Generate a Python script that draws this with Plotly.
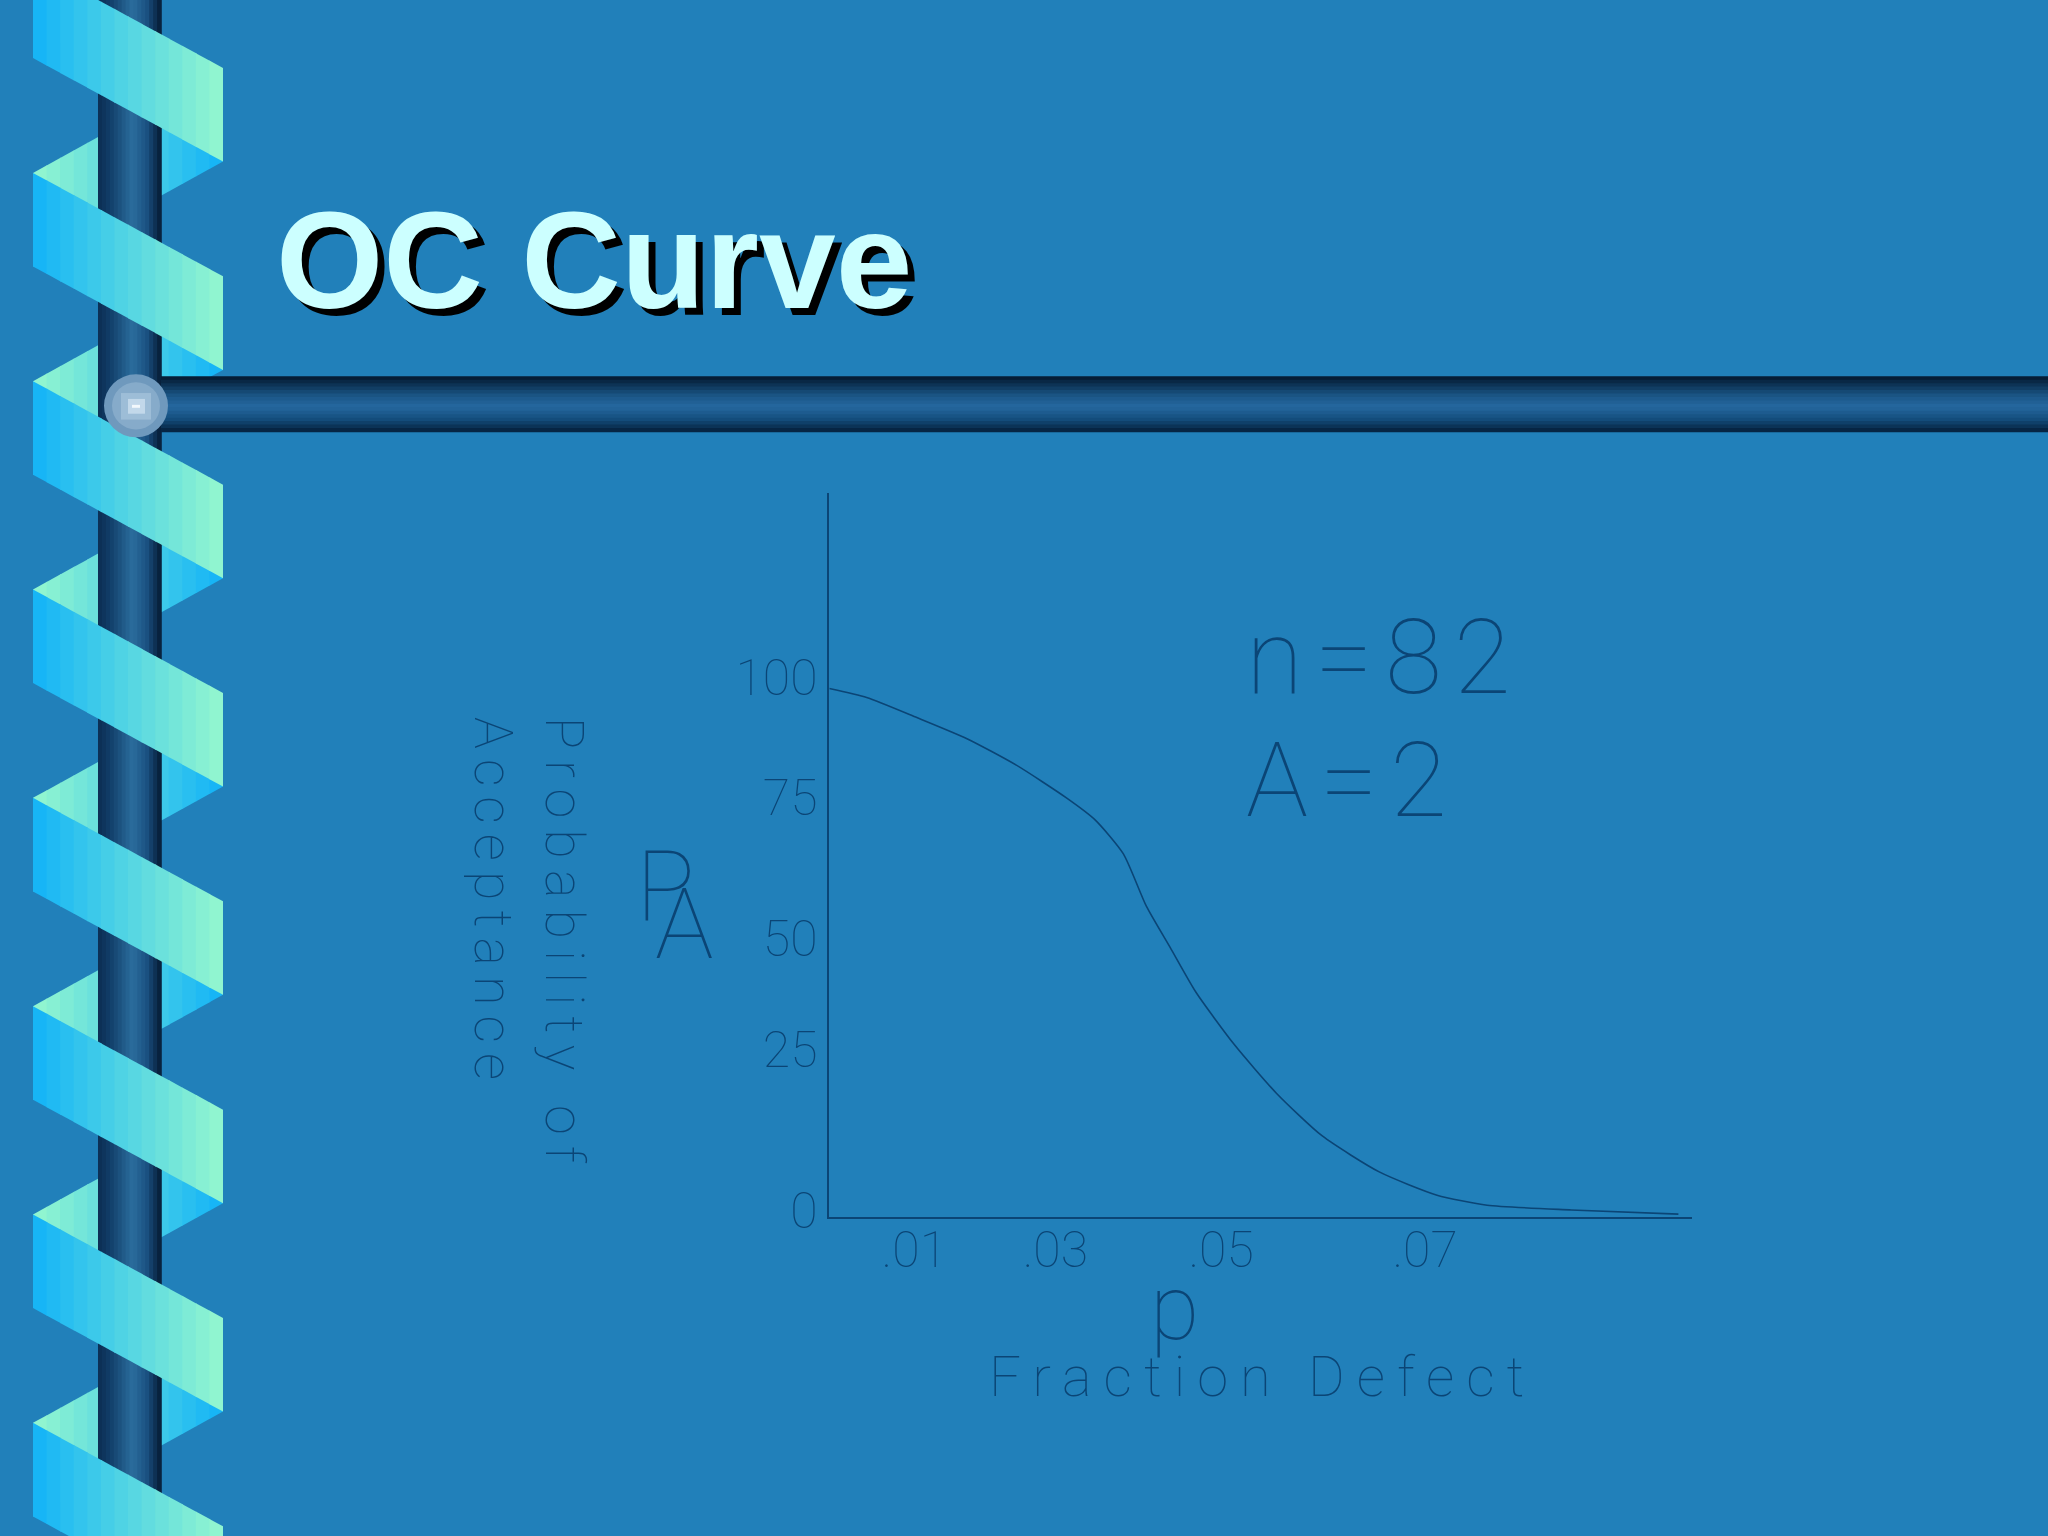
import plotly.graph_objects as go

# OC curve for n=82, A=2
fraction_defect = [0.0, 0.0044, 0.0103, 0.0162, 0.0220, 0.0279, 0.0313, 0.0346,
                   0.0373, 0.0401, 0.0431, 0.0476, 0.0526, 0.0580, 0.0647,
                   0.0715, 0.0774, 0.0873, 0.0999]
prob_accept = [100.0, 98.3, 94.5, 90.5, 85.5, 79.3, 75.1, 68.7, 58.8, 51.0,
               42.6, 32.7, 23.4, 15.3, 8.5, 4.1, 2.2, 1.3, 0.5]

# tick labels sit where they were hand-placed on the slide
x_tick_pos = [0.0100, 0.0266, 0.0461, 0.0701]
x_tick_text = [".01", ".03", ".05", ".07"]
y_tick_pos = [1.2, 31.6, 52.6, 79.3, 102.1]
y_tick_text = ["0", "25", "50", "75", "100"]

W, H = 2048, 1536
BG = "#2180BA"
INK = "#0b4576"
THIN = dict(family="Roboto", weight=100, color=INK)


def px(x, y):
    return x / W, 1 - y / H


def path(points):
    pts = [px(x, y) for x, y in points]
    return "M " + " L ".join(f"{a:.5f},{b:.5f}" for a, b in pts) + " Z"


def mix(c1, c2, t):
    a = [int(c1[i:i + 2], 16) for i in (1, 3, 5)]
    b = [int(c2[i:i + 2], 16) for i in (1, 3, 5)]
    return "#" + "".join(f"{round(p + (q - p) * t):02x}" for p, q in zip(a, b))


def profile(stops, t):
    for (t0, c0), (t1, c1) in zip(stops, stops[1:]):
        if t <= t1:
            return mix(c0, c1, (t - t0) / (t1 - t0))
    return stops[-1][1]


shapes = []


def poly(points, color):
    shapes.append(dict(type="path", xref="paper", yref="paper", path=path(points),
                       fillcolor=color, line=dict(width=0), layer="below"))


# --- slide decoration: ribbon wrapped round a pole ---
BLUE, MINT = "#12B3F7", "#95F7CF"
RL, RR = 33, 223
PERIOD = 211.5
N = 14


def band(top, c_left, c_right):
    for i in range(N):
        xa = RL + (RR - RL) * i / N
        xb = min(RL + (RR - RL) * (i + 1) / N + 0.8, RR)
        col = mix(c_left, c_right, (i + 0.5) / N)
        poly([(xa, top(xa)), (xb, top(xb)), (xb, top(xb) + 95), (xa, top(xa) + 95)], col)


starts = [387 + PERIOD * k for k in range(-3, 6)]

# back halves first (behind pole)
for y0 in starts:
    band(lambda x, y0=y0: y0 + 105 + (RR - x) * 106.5 / 190, MINT, BLUE)

# pole
pole_stops = [(0, "#0b2d52"), (0.2, "#123f6a"), (0.55, "#2b6e9e"), (0.78, "#1a5080"), (1, "#051a33")]
for i in range(16):
    xa = 98 + 63 * i / 16
    xb = 98 + 63 * (i + 1) / 16 + 0.8
    poly([(xa, 0), (xb, 0), (xb, H), (xa, H)], profile(pole_stops, (i + 0.5) / 16))

# horizontal bar
bar_stops = [(0, "#03172e"), (0.35, "#1a5585"), (0.55, "#2568a0"), (0.8, "#124a78"), (1, "#041e3a")]
for i in range(16):
    ya = 382 + 56 * i / 16
    yb = 382 + 56 * (i + 1) / 16 + 0.8
    poly([(161, ya), (W, ya), (W, yb), (161, yb)], profile(bar_stops, (i + 0.5) / 16))

# front halves
for y0 in starts:
    band(lambda x, y0=y0: y0 + (x - RL) * 105 / 190, BLUE, MINT)


# sphere at end of bar
def circ(cx, cy, r, color):
    x0, y1 = px(cx - r, cy - r)
    x1, y0 = px(cx + r, cy + r)
    shapes.append(dict(type="circle", xref="paper", yref="paper", x0=x0, x1=x1, y0=y0, y1=y1,
                       fillcolor=color, line=dict(width=0), layer="below"))


circ(136, 412, 32, "#6f99bd")
circ(136, 412, 24, "#86abca")
poly([(121, 399), (151, 399), (151, 426), (121, 426)], "#9dbdd7")
poly([(128, 405), (145, 405), (145, 420), (128, 420)], "#c2d8ea")
poly([(132, 411), (140, 411), (140, 414), (132, 414)], "#f2f8fc")

# --- chart ---
curve = go.Scatter(x=fraction_defect, y=prob_accept, mode="lines",
                   line=dict(color=INK, width=1.6, shape="spline", smoothing=0.6),
                   hoverinfo="skip")

annotations = []


def ann(text, x, y, size, xanchor="center", yanchor="middle", font=None, **kw):
    ax, ay = px(x, y)
    f = dict(THIN) if font is None else dict(font)
    f["size"] = size
    annotations.append(dict(text=text, x=ax, y=ay, xref="paper", yref="paper",
                            showarrow=False, xanchor=xanchor, yanchor=yanchor, font=f, **kw))


def spaced(text, gap):
    return f'<span style="letter-spacing:{gap}px">{text}</span>'


ann("OC Curve", 274, 264, 138, xanchor="left",
    font=dict(family="Liberation Sans", weight="bold", color="#CCFFFF",
              shadow="7px 7px 0px #000000"))

ann(spaced("n=82", 12), 1244, 667, 104, xanchor="left")
ann(spaced("A=2", 12), 1244, 792, 104, xanchor="left")
ann("P", 665, 901, 98)
ann("A", 684, 939, 98)
ann(spaced("Probability of", 11) + "<br>" + spaced("Acceptance", 10), 529, 725, 54,
    yanchor="top", textangle=90, align="left")
ann("p", 1174, 1328, 90)
ann(spaced("Fraction Defect", 12), 1262, 1398, 56)

axis_common = dict(showline=True, linecolor=INK, linewidth=1.5, showgrid=False,
                   zeroline=False, ticks="", fixedrange=True,
                   tickfont=dict(THIN, size=50))

fig = go.Figure(data=[curve])
fig.update_layout(
    width=W, height=H,
    margin=dict(l=0, r=0, t=0, b=0),
    paper_bgcolor=BG, plot_bgcolor=BG,
    showlegend=False,
    shapes=shapes,
    annotations=annotations,
    xaxis=dict(axis_common, domain=[829.3 / W, 1691.5 / W], range=[0, 0.10144],
               tickvals=x_tick_pos, ticktext=x_tick_text, ticklabelstandoff=-12),
    yaxis=dict(axis_common, domain=[(H - 1235.3) / H, (H - 500) / H], range=[0, 137.1],
               tickvals=y_tick_pos, ticktext=y_tick_text, ticklabelstandoff=0),
)

page_fix = ("var gd = document.getElementById('{plot_id}');"
            "gd.style.position = 'fixed'; gd.style.left = '0'; gd.style.top = '0';"
            "document.body.style.margin = '0'; document.body.style.overflow = 'hidden';")
fig.write_html("out.html", config={"displayModeBar": False}, post_script=page_fix)
